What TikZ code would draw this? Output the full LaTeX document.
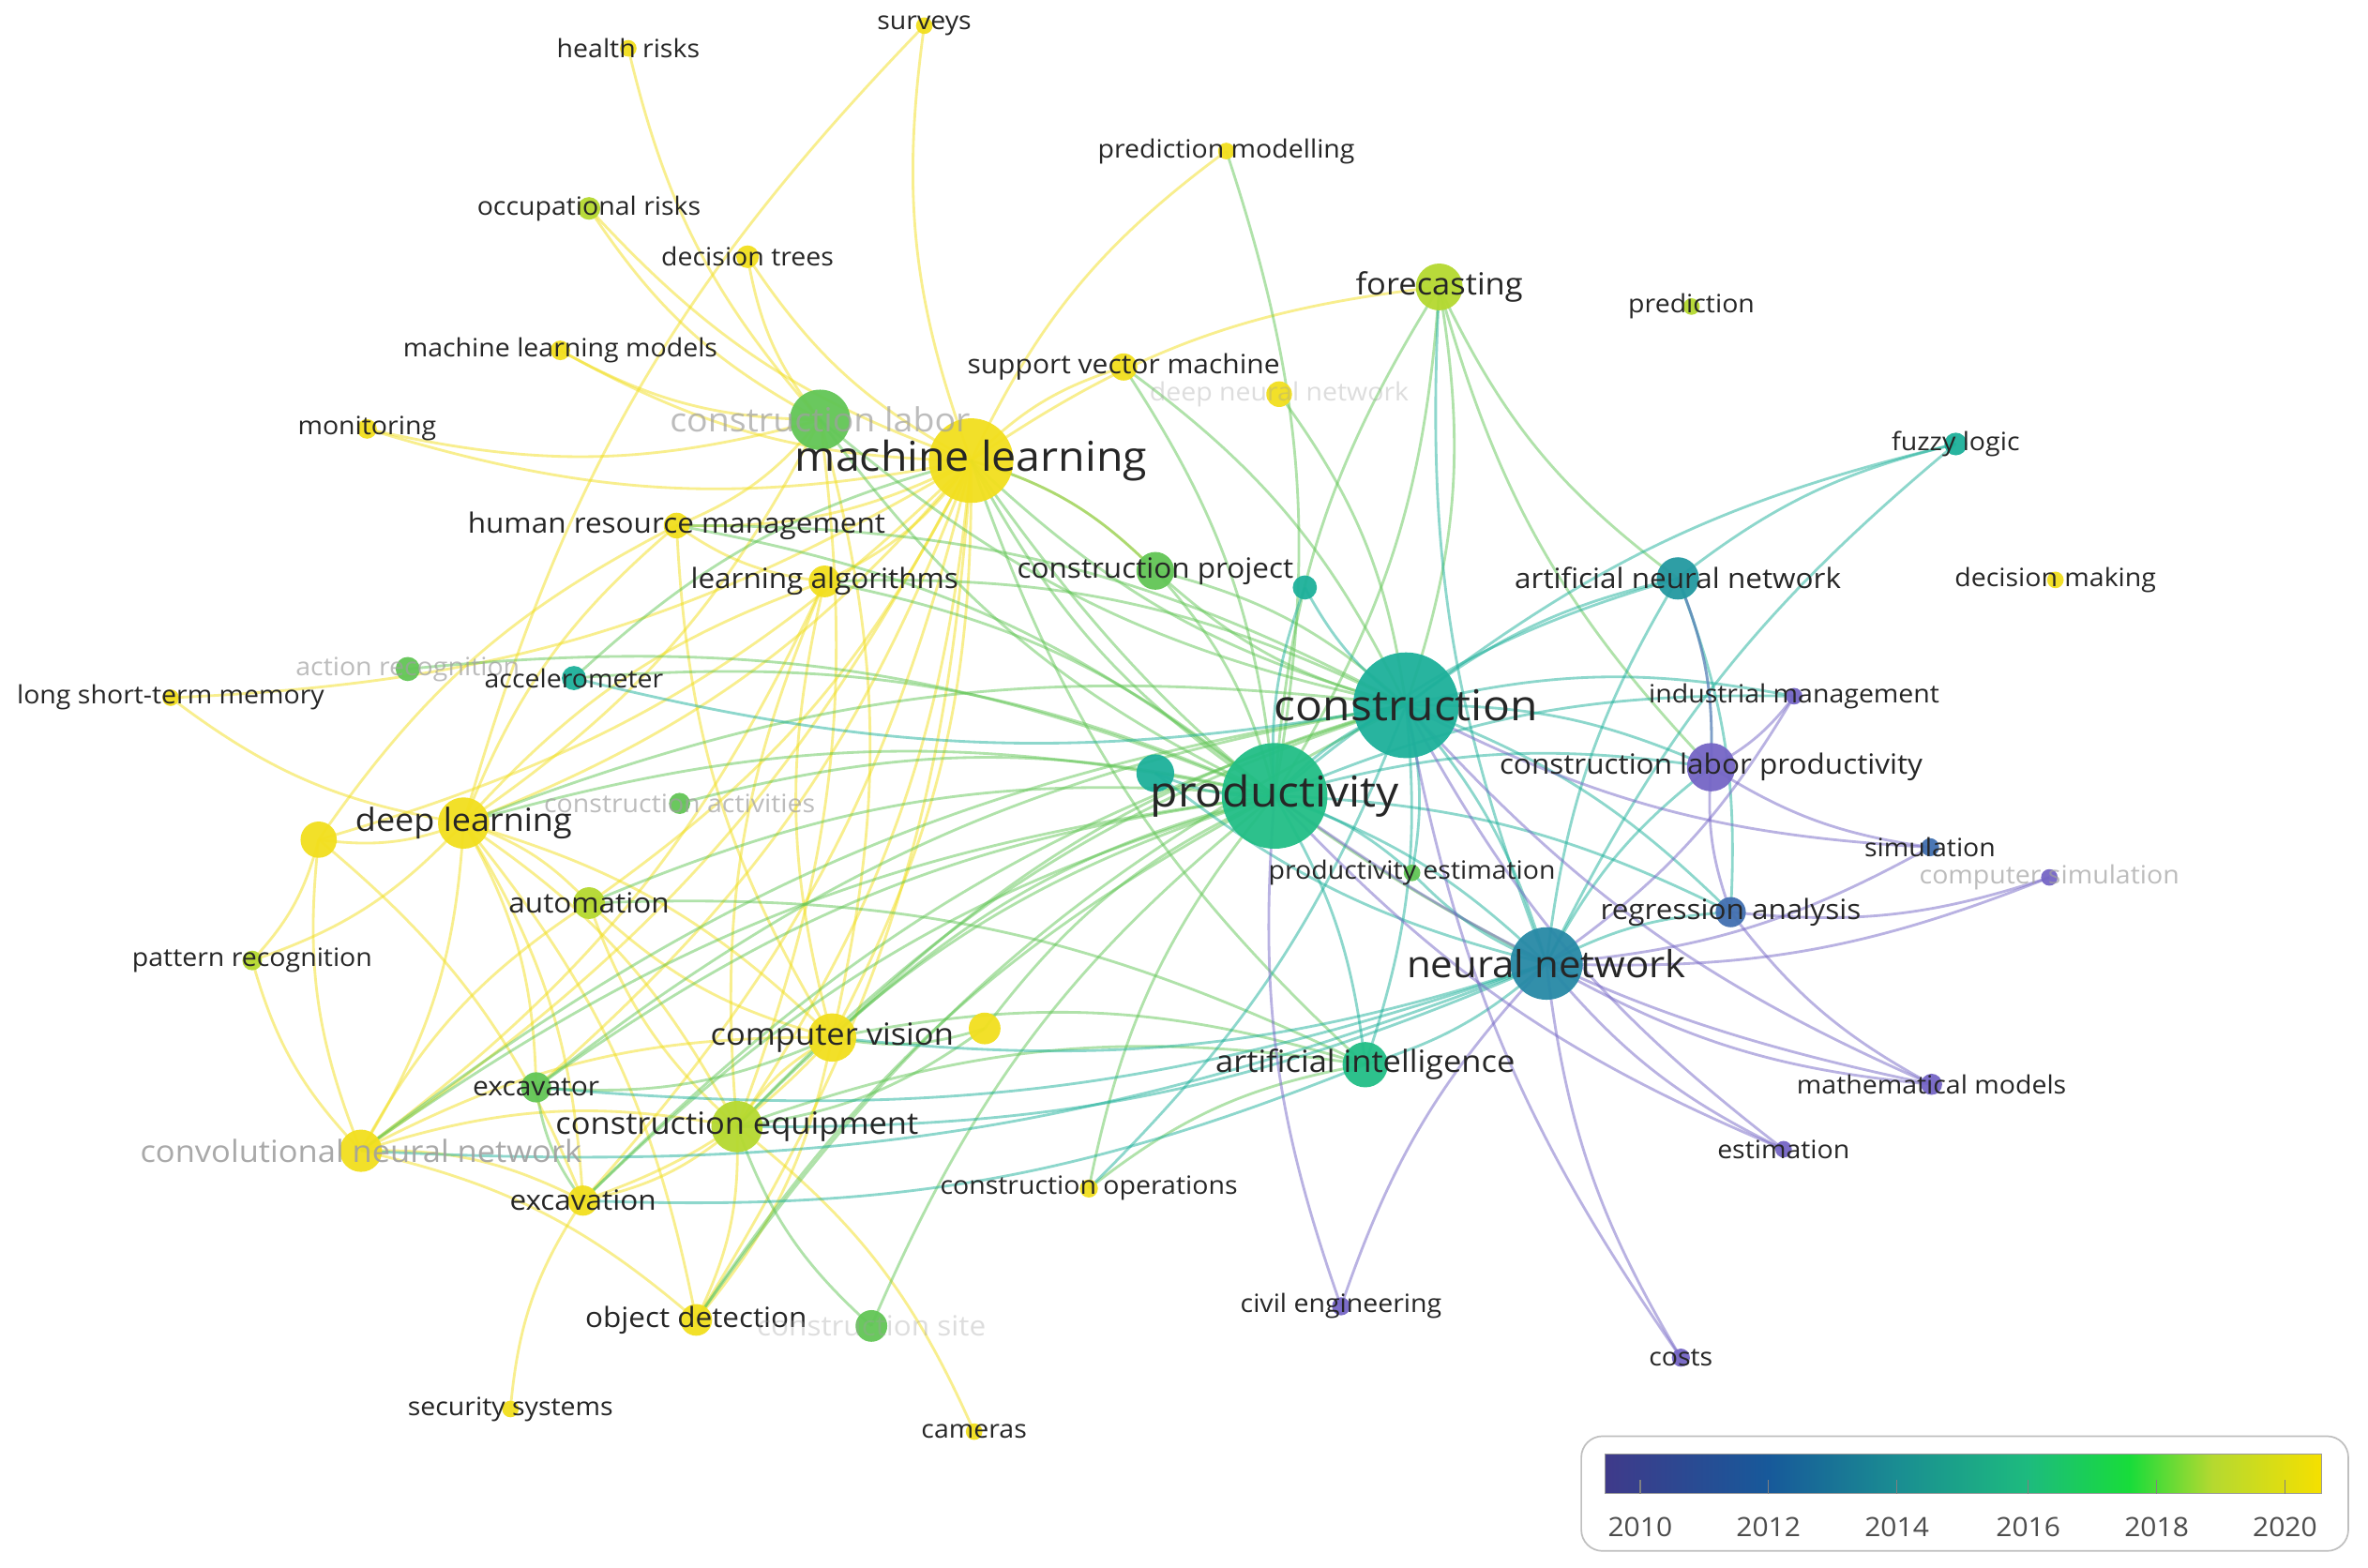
\documentclass[tikz,border=0pt]{standalone}
\usepackage{fontspec}
\usepackage{etoolbox}
\setmainfont{Open Sans}[FakeStretch=1.06]
\begin{document}
\begin{tikzpicture}[x=0.02cm,y=-0.02cm]
\definecolor{cyel}{HTML}{F2DF1E}
\definecolor{cyg}{HTML}{B5D930}
\definecolor{cgrn}{HTML}{62C656}
\definecolor{cgt}{HTML}{22BE86}
\definecolor{cteal}{HTML}{1DB09A}
\definecolor{ctb}{HTML}{2789A6}
\definecolor{cblue}{HTML}{4270B0}
\definecolor{cpur}{HTML}{7566C6}
\definecolor{labgray}{HTML}{A0A0A0}
\tikzset{edge/.style={line width=1pt,opacity=0.5},
 lab/.style={inner sep=0pt,text=black!85},
 flab/.style={inner sep=0pt,text=labgray,opacity=0.7},
 bubble/.style={circle,inner sep=0pt,opacity=0.95}}
\def\circlelist{}
\newcommand\bub[5]{\coordinate (#1) at (#2,#3);\gappto\circlelist{\node[bubble,fill=#5,minimum size=#4cm] at (#2,#3) {};}}
\useasboundingbox (0,0) rectangle (1568,1038);
\fill[white] (0,0) rectangle (1568,1038);
\bub{sur}{612}{17}{0.22}{cyel}
\bub{hr}{416}{32}{0.22}{cyel}
\bub{pm}{812}{100}{0.22}{cyel}
\bub{or}{390}{138}{0.3}{cyg}
\bub{dt}{495}{170}{0.3}{cyel}
\bub{fc}{953}{190}{0.62}{cyg}
\bub{pred}{1120}{203}{0.22}{cyg}
\bub{mlm}{371}{232}{0.26}{cyel}
\bub{svm}{744}{243}{0.36}{cyel}
\bub{dnn}{847}{261}{0.34}{cyel}
\bub{cl}{543}{278}{0.8}{cgrn}
\bub{mon}{243}{284}{0.26}{cyel}
\bub{ml}{643}{305}{1.12}{cyel}
\bub{fl}{1295}{294}{0.3}{cteal}
\bub{hrm}{448}{348}{0.34}{cyel}
\bub{la}{546}{385}{0.42}{cyel}
\bub{cp}{765}{378}{0.5}{cgrn}
\bub{t1}{864}{389}{0.32}{cteal}
\bub{ann}{1111}{383}{0.56}{ctb!60!cteal}
\bub{dm}{1361}{384}{0.22}{cyel}
\bub{ar}{270}{443}{0.32}{cgrn}
\bub{acc}{380}{449}{0.32}{cteal}
\bub{lstm}{113}{462}{0.22}{cyel}
\bub{co}{931}{467}{1.4}{cteal}
\bub{im}{1188}{461}{0.22}{cpur}
\bub{clp}{1133}{508}{0.64}{cpur}
\bub{t2}{765}{512}{0.5}{cteal}
\bub{pr}{844}{527}{1.4}{cgt}
\bub{cact}{450}{532}{0.28}{cgrn}
\bub{dl}{307}{545}{0.68}{cyel}
\bub{ya}{211}{556}{0.48}{cyel}
\bub{sim}{1278}{561}{0.24}{cblue}
\bub{csim}{1357}{581}{0.22}{cpur}
\bub{pe}{935}{578}{0.22}{cgrn}
\bub{auto}{390}{598}{0.42}{cyg}
\bub{ra}{1146}{604}{0.4}{cblue}
\bub{nn}{1024}{638}{0.96}{ctb}
\bub{patt}{167}{636}{0.26}{cyg}
\bub{cv}{551}{687}{0.64}{cyel}
\bub{yb}{652}{681}{0.42}{cyel}
\bub{ai}{904}{705}{0.6}{cgt}
\bub{math}{1279}{718}{0.28}{cpur}
\bub{exc}{355}{720}{0.4}{cgrn}
\bub{ce}{488}{746}{0.68}{cyg}
\bub{cnn}{239}{762}{0.56}{cyel}
\bub{est}{1181}{761}{0.22}{cpur}
\bub{ops}{721}{787}{0.24}{cyel}
\bub{excv}{386}{795}{0.4}{cyel}
\bub{civ}{888}{865}{0.24}{cpur}
\bub{od}{461}{874}{0.42}{cyel}
\bub{cs}{577}{878}{0.42}{cgrn}
\bub{cost}{1113}{899}{0.24}{cpur}
\bub{sec}{338}{933}{0.22}{cyel}
\bub{cam}{645}{948}{0.22}{cyel}
% edges
\foreach \a/\b in {ml/sur,ml/pm,ml/or,ml/dt,ml/mlm,ml/mon,ml/svm,ml/hrm,ml/la,ml/dl,ml/cv,ml/ce,ml/auto,ml/cnn,ml/excv,ml/od,ml/ya,ml/lstm,cl/hr,cl/or,cl/dt,cl/mlm,cl/mon,cl/hrm,cl/dl,cl/cv,cl/ce,dl/ya,dl/cnn,dl/patt,dl/lstm,dl/ce,dl/exc,dl/excv,dl/cv,dl/od,dl/auto,dl/la,dl/hrm,cnn/ya,cnn/patt,cnn/ce,cnn/excv,cnn/od,cnn/cv,cnn/auto,ce/excv,ce/od,ce/cv,ce/auto,ce/cam,ce/la,cv/excv,cv/od,cv/auto,cv/la,cv/hrm,sec/excv,ya/patt,ya/excv,ya/hrm,ml/fc,ml/cp,dl/sur,la/hrm,la/cnn,ml/exc}
 \draw[edge,cyel] (\a) to[bend left=14] (\b);
\foreach \a/\b in {ml/pr,ml/co,ml/nn,ml/ai,cl/pr,cl/co,pr/fc,pr/pm,pr/svm,pr/cp,pr/dl,pr/cv,pr/ce,pr/auto,pr/exc,pr/cnn,pr/excv,pr/od,pr/cs,pr/ops,pr/la,pr/hrm,pr/acc,pr/cact,pr/yb,pr/ar,co/fc,co/cp,co/dl,co/cv,co/ce,co/exc,co/cnn,co/excv,co/od,co/svm,co/dnn,ce/cs,ce/yb,cv/yb,ai/cv,ai/ce,ai/ops,ai/auto,exc/excv,exc/cv,fc/ann,fc/clp,ml/acc,cp/ml,cp/co,fc/pr,co/la,co/hrm}
 \draw[edge,cgrn] (\a) to[bend right=14] (\b);
\foreach \a/\b in {pr/co,pr/nn,pr/ann,pr/ai,pr/clp,pr/ra,pr/pe,pr/im,pr/t1,pr/t2,co/ann,co/nn,co/ai,co/clp,co/ra,co/im,co/fl,co/ops,co/t1,co/pe,nn/ann,nn/fl,nn/clp,nn/ra,nn/ai,nn/cv,nn/ce,nn/exc,nn/cnn,nn/fc,nn/pe,ann/fl,ann/clp,ann/ra,co/acc,nn/t2,ai/excv}
 \draw[edge,cteal] (\a) to[bend left=12] (\b);
\foreach \a/\b in {nn/math,nn/est,nn/cost,nn/civ,nn/sim,nn/csim,nn/im,co/sim,co/math,co/est,co/cost,ra/csim,clp/im,clp/sim,clp/ra,pr/math,pr/est,pr/civ,clp/ann,ra/math}
 \draw[edge,cpur] (\a) to[bend right=12] (\b);
% circles on top of edges
\circlelist
% labels
\node[lab,font=\fontsize{9.5}{11}\selectfont] at (sur) {surveys};
\node[lab,font=\fontsize{9.5}{11}\selectfont] at (hr) {health risks};
\node[lab,font=\fontsize{9.5}{11}\selectfont] at (pm) {prediction modelling};
\node[lab,font=\fontsize{9.5}{11}\selectfont] at (or) {occupational risks};
\node[lab,font=\fontsize{9.5}{11}\selectfont] at (dt) {decision trees};
\node[lab,font=\fontsize{11.5}{13}\selectfont] at (fc) {forecasting};
\node[lab,font=\fontsize{9.5}{11}\selectfont] at (pred) {prediction};
\node[lab,font=\fontsize{9.5}{11}\selectfont] at (mlm) {machine learning models};
\node[lab,font=\fontsize{10}{12}\selectfont] at (svm) {support vector machine};
\node[flab,font=\fontsize{9.5}{11}\selectfont,opacity=0.35] at (dnn) {deep neural network};
\node[flab,font=\fontsize{12.5}{14}\selectfont] at (cl) {construction labor};
\node[lab,font=\fontsize{9.5}{11}\selectfont] at (mon) {monitoring};
\node[lab,font=\fontsize{15.5}{18}\selectfont] at (ml) {machine learning};
\node[lab,font=\fontsize{9.5}{11}\selectfont] at (fl) {fuzzy logic};
\node[lab,font=\fontsize{10.5}{12}\selectfont] at (hrm) {human resource management};
\node[lab,font=\fontsize{10.5}{12}\selectfont] at (la) {learning algorithms};
\node[lab,font=\fontsize{10.5}{12}\selectfont] at (cp) {construction project};
\node[lab,font=\fontsize{10.5}{12}\selectfont] at (ann) {artificial neural network};
\node[lab,font=\fontsize{9.5}{11}\selectfont] at (dm) {decision making};
\node[flab,font=\fontsize{9.5}{11}\selectfont] at (ar) {action recognition};
\node[lab,font=\fontsize{9.5}{11}\selectfont] at (acc) {accelerometer};
\node[lab,font=\fontsize{9.5}{11}\selectfont] at (lstm) {long short-term memory};
\node[lab,font=\fontsize{16}{19}\selectfont] at (co) {construction};
\node[lab,font=\fontsize{9.5}{11}\selectfont] at (im) {industrial management};
\node[lab,font=\fontsize{10.5}{12}\selectfont] at (clp) {construction labor productivity};
\node[lab,font=\fontsize{16}{19}\selectfont] at (pr) {productivity};
\node[flab,font=\fontsize{9.5}{11}\selectfont] at (cact) {construction activities};
\node[lab,font=\fontsize{12}{14}\selectfont] at (dl) {deep learning};
\node[lab,font=\fontsize{9.5}{11}\selectfont] at (sim) {simulation};
\node[flab,font=\fontsize{9.5}{11}\selectfont] at (csim) {computer simulation};
\node[lab,font=\fontsize{9.5}{11}\selectfont] at (pe) {productivity estimation};
\node[lab,font=\fontsize{10.5}{12}\selectfont] at (auto) {automation};
\node[lab,font=\fontsize{10.5}{12}\selectfont] at (ra) {regression analysis};
\node[lab,font=\fontsize{14}{17}\selectfont] at (nn) {neural network};
\node[lab,font=\fontsize{9.5}{11}\selectfont] at (patt) {pattern recognition};
\node[lab,font=\fontsize{11.5}{13}\selectfont] at (cv) {computer vision};
\node[lab,font=\fontsize{11.5}{13}\selectfont] at (ai) {artificial intelligence};
\node[lab,font=\fontsize{9.5}{11}\selectfont] at (math) {mathematical models};
\node[lab,font=\fontsize{10}{12}\selectfont] at (exc) {excavator};
\node[lab,font=\fontsize{11.5}{13}\selectfont] at (ce) {construction equipment};
\node[flab,font=\fontsize{11.5}{13}\selectfont,opacity=0.9] at (cnn) {convolutional neural network};
\node[lab,font=\fontsize{9.5}{11}\selectfont] at (est) {estimation};
\node[lab,font=\fontsize{9.5}{11}\selectfont] at (ops) {construction operations};
\node[lab,font=\fontsize{10.5}{12}\selectfont] at (excv) {excavation};
\node[lab,font=\fontsize{9.5}{11}\selectfont] at (civ) {civil engineering};
\node[lab,font=\fontsize{10.5}{12}\selectfont] at (od) {object detection};
\node[flab,font=\fontsize{10.5}{12}\selectfont,opacity=0.35] at (cs) {construction site};
\node[lab,font=\fontsize{9.5}{11}\selectfont] at (cost) {costs};
\node[lab,font=\fontsize{9.5}{11}\selectfont] at (sec) {security systems};
\node[lab,font=\fontsize{9.5}{11}\selectfont] at (cam) {cameras};
% colour bar
\node[draw=black!25,rounded corners=8pt,line width=0.6pt,minimum width=10.16cm,minimum height=1.52cm,inner sep=0pt] (legend) at (1301,989) {};
\definecolor{v10}{HTML}{3F3A8A}
\definecolor{v12}{HTML}{17599A}
\definecolor{v14}{HTML}{1A8D92}
\definecolor{v16}{HTML}{1DBB7E}
\definecolor{v175}{HTML}{18DC3A}
\definecolor{v20}{HTML}{F5E000}
\shade[left color=v10,right color=v12] (1063,963) rectangle (1171,989);
\shade[left color=v12,right color=v14] (1171,963) rectangle (1256,989);
\shade[left color=v14,right color=v16] (1256,963) rectangle (1343,989);
\shade[left color=v16,right color=v175] (1343,963) rectangle (1410,989);
\shade[left color=v175,right color=cyg] (1410,963) rectangle (1465,989);
\shade[left color=cyg,right color=v20] (1465,963) rectangle (1537,989);
\draw[black!40,line width=0.4pt] (1063,963) rectangle (1537,989);
\foreach \x/\t in {1086/2010,1171/2012,1256/2014,1343/2016,1428/2018,1513/2020}{
 \draw[black!50,line width=0.5pt] (\x,980) -- (\x,989);
 \node[lab,font=\fontsize{10}{12}\selectfont,text=black!70] at (\x,1011) {\t};}
\end{tikzpicture}
\end{document}
